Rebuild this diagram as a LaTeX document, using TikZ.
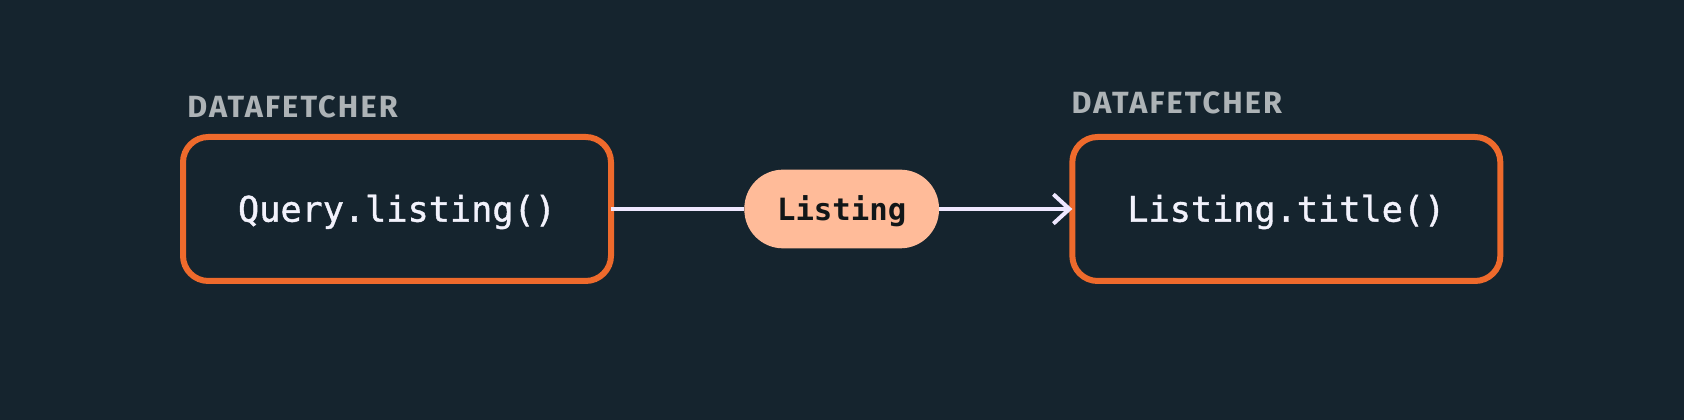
\documentclass[tikz,border=0pt]{standalone}
\usepackage{fontspec}
\setmonofont{DejaVu Sans Mono}
\newfontfamily\codefamily[FakeBold=1.2]{DejaVu Sans Mono}
\newfontfamily\tagfamily[LetterSpace=7]{Fira Sans}
\usepackage{tikz}
\usetikzlibrary{arrows.meta}
\usetikzlibrary{positioning}

\definecolor{bgdark}{HTML}{15242E}
\definecolor{orangeline}{HTML}{EE6A2C}
\definecolor{peach}{HTML}{FFBB99}
\definecolor{taggray}{HTML}{ADB3B6}
\definecolor{codewhite}{HTML}{F2F2FC}
\definecolor{codeblack}{HTML}{111618}
\definecolor{linkwhite}{HTML}{EEE8FF}

\begin{document}
\begin{tikzpicture}[x=0.75pt, y=0.75pt, node distance=100pt,
                fetcher/.style={rectangle, rounded corners=19pt, draw=orangeline, line width=4.5pt, outer sep=0pt,
                    minimum width=321pt, minimum height=108pt, text height=19pt, text depth=0pt,
                    text=codewhite, font=\fontsize{26.4}{30}\selectfont\codefamily},
                kind/.style={rectangle, rounded corners=29pt, fill=peach, outer sep=0pt,
                    minimum width=146pt, minimum height=59pt, text height=16.8pt, text depth=0pt,
                    text=codeblack, font=\fontsize{23}{27}\selectfont\ttfamily\bfseries},
                tag/.style={anchor=base west, inner sep=0pt, text=taggray, font=\fontsize{23}{27}\selectfont\tagfamily\bfseries},
                arrow/.style={draw, line width=3pt, linkwhite, -{Straight Barb[length=12pt, width=22pt]}},
                arrow0/.style={draw, line width=3pt, linkwhite},
            ]
            \useasboundingbox (0,0) rectangle (1684,420);
            \fill[bgdark] (0,0) rectangle (1684,420);
            \node[fetcher](query) at (397,211) {Query.listing()};
            \node[kind, right=of query](listing) {Listing};
            \node[fetcher, right=of listing](title) {Listing.title()};
            \node[tag](tagquery) at ([shift={(4,19)}] query.north west) {DATAFETCHER};
            \node[tag](tagtitle) at ([shift={(-1,23)}] title.north west) {DATAFETCHER};
            \path[arrow0] (query) -- (listing);
            \path[arrow] (listing) -- (title);
            \end{tikzpicture}
\end{document}
